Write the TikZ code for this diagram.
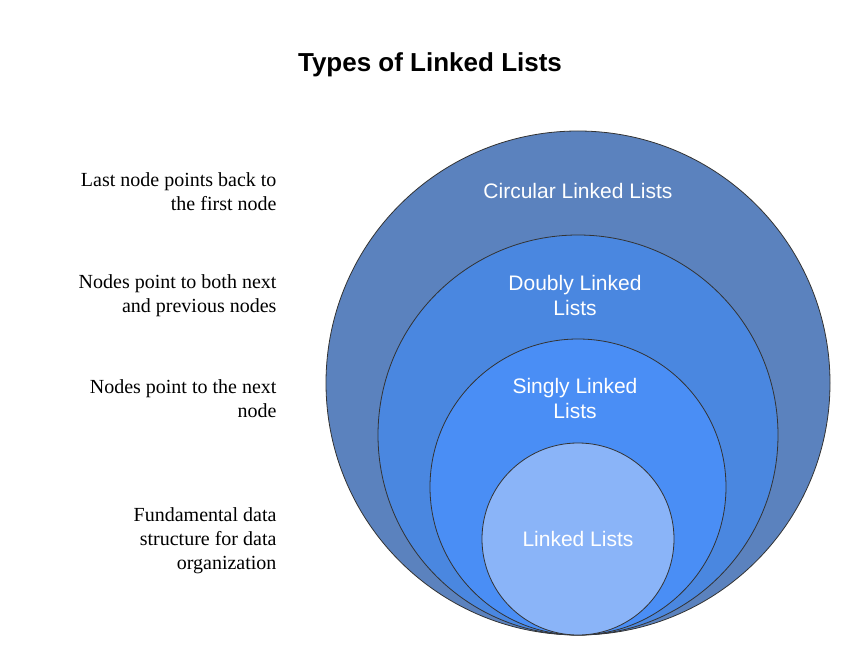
\documentclass[tikz,border=0pt]{standalone}
\usepackage{fontspec}
\setmainfont{Liberation Serif}
\newfontfamily\sans{Liberation Sans}
\begin{document}
\begin{tikzpicture}[x=1pt,y=-1pt,
  ring/.style={draw=black!80,line width=0.8pt},
  lbl/.style={text=white,font=\sans\fontsize{21}{25}\selectfont,align=center},
  side/.style={font=\fontsize{20}{24}\selectfont,align=right,anchor=east}]
\useasboundingbox (0,0) rectangle (855,658);
\fill[white] (0,0) rectangle (855,658);
\node[font=\sans\bfseries\fontsize{26}{30}\selectfont] (title) at (430,65) {Types of Linked Lists};
\draw[ring,fill={rgb,255:red,91;green,130;blue,190}] (578,383) circle (252) coordinate (c1);
\draw[ring,fill={rgb,255:red,74;green,135;blue,224}] (578,435) circle (200) coordinate (c2);
\draw[ring,fill={rgb,255:red,74;green,142;blue,245}] (578,487) circle (148) coordinate (c3);
\draw[ring,fill={rgb,255:red,138;green,180;blue,248}] (578,539) circle (96) coordinate (c4);
\node[lbl] (l1) at (578,191) {Circular Linked Lists};
\node[lbl] (l2) at (575,295) {Doubly Linked\\Lists};
\node[lbl] (l3) at (575,398) {Singly Linked\\Lists};
\node[lbl] (l4) at (578,539) {Linked Lists};
\node[side] (s1) at (280,192) {Last node points back to\\the first node};
\node[side] (s2) at (280,296) {Nodes point to both next\\and previous nodes};
\node[side] (s3) at (280,399) {Nodes point to the next\\node};
\node[side] (s4) at (280,541) {Fundamental data\\structure for data\\organization};
\end{tikzpicture}
\end{document}
